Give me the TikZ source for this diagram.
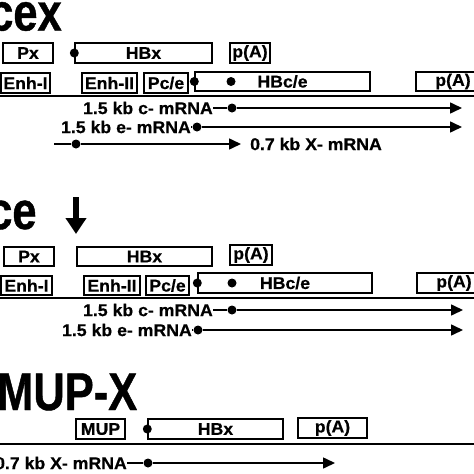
\documentclass[tikz,border=0pt]{standalone}
\usepackage{fontspec}
\setmainfont{Liberation Sans}
\newfontfamily\labfont[FakeStretch=1.04,FakeBold=0.6]{Liberation Sans}
\newfontfamily\titfont[FakeStretch=0.82,FakeBold=0.8]{Liberation Sans}
\usetikzlibrary{arrows.meta}
\tikzset{
  gbox/.style={draw, line width=1.4pt, inner sep=0pt, font=\labfont\bfseries\fontsize{17}{18}\selectfont},
  gdot/.style={circle, fill=black, inner sep=0pt, minimum size=9pt},
  lab/.style={inner sep=0pt, font=\labfont\bfseries\fontsize{17}{18}\selectfont},
  title/.style={inner sep=0pt, anchor=base west, font=\titfont\bfseries\fontsize{53}{53}\selectfont},
  gene/.style={line width=2pt},
  lead/.style={line width=1.6pt},
  mrna/.style={line width=1.6pt, -{Triangle[length=12pt,width=11pt]}},
  bigarrow/.style={line width=6pt, -{Triangle[length=16pt,width=20pt]}}
}
\begin{document}
\begin{tikzpicture}[x=1pt,y=-1pt]
\useasboundingbox[fill=white] (0,0) rectangle (474,474);
% ---------- section 1 ----------
\node[title] (t1) at (-11,30.5) {cex};
\node[gbox, minimum width=50pt, minimum height=20pt] (px1) at (28,53) {Px};
\node[gbox, minimum width=137pt, minimum height=20pt] (hbx1) at (143.5,53) {HBx};
\node[gbox, minimum width=40pt, minimum height=20pt] (pa1) at (250,53) {p(A)};
\node[gdot] (d1) at (hbx1.west) {};
\node[gbox, minimum width=49pt, minimum height=20pt] (enhi1) at (25.5,83) {Enh-I};
\node[gbox, minimum width=55pt, minimum height=20pt] (enhii1) at (109.5,83) {Enh-II};
\node[gbox, minimum width=44pt, minimum height=20pt] (pce1) at (166,83) {Pc/e};
\node[gbox, minimum width=175pt, minimum height=19pt] (hbce1) at (282.5,81.5) {HBc/e};
\node[gbox, minimum width=74pt, minimum height=19pt] (pab1) at (453,81.5) {p(A)};
\node[gdot] (d2) at (hbce1.west) {};
\node[gdot] (d3) at (231,81.5) {};
\coordinate (g1a) at (-2,96);
\coordinate (g1b) at (476,96);
\draw[gene] (g1a) -- (g1b);
\node[lab, anchor=east] (c1lab) at (213,108) {1.5 kb c- mRNA};
\node[gdot] (c1dot) at (232,108) {};
\coordinate (c1end) at (462,108);
\draw[lead] (c1lab.east) -- (c1dot);
\draw[mrna] (c1dot) -- (c1end);
\node[lab, anchor=east] (e1lab) at (191,127) {1.5 kb e- mRNA};
\node[gdot] (e1dot) at (197,127) {};
\coordinate (e1end) at (462,127);
\draw[lead] (e1lab.east) -- (e1dot);
\draw[mrna] (e1dot) -- (e1end);
\coordinate (x1start) at (54,144);
\node[gdot] (x1dot) at (76,144) {};
\node[lab, anchor=west] (x1lab) at (250,144) {0.7 kb X- mRNA};
\draw[lead] (x1start) -- (x1dot);
\draw[mrna] (x1dot) -- ([xshift=-9pt]x1lab.west);
% ---------- section 2 ----------
\node[title] (t2) at (-12,229) {ce};
\coordinate (arA) at (76,197);
\coordinate (arB) at (76,234);
\draw[bigarrow] (arA) -- (arB);
\node[gbox, minimum width=50pt, minimum height=19pt] (px2) at (29,256.5) {Px};
\node[gbox, minimum width=135pt, minimum height=19pt] (hbx2) at (144.5,256.5) {HBx};
\node[gbox, minimum width=42pt, minimum height=20pt] (pa2) at (251,255) {p(A)};
\node[gbox, minimum width=51pt, minimum height=19pt] (enhi2) at (26.5,285.5) {Enh-I};
\node[gbox, minimum width=56pt, minimum height=19pt] (enhii2) at (112,285.5) {Enh-II};
\node[gbox, minimum width=43pt, minimum height=19pt] (pce2) at (167.5,285.5) {Pc/e};
\node[gbox, minimum width=174pt, minimum height=20pt] (hbce2) at (285,283) {HBc/e};
\node[gbox, minimum width=74pt, minimum height=20pt] (pab2) at (454,283) {p(A)};
\node[gdot] (d4) at (hbce2.west) {};
\node[gdot] (d5) at (232,283) {};
\coordinate (g2a) at (-2,298);
\coordinate (g2b) at (476,298);
\draw[gene] (g2a) -- (g2b);
\node[lab, anchor=east] (c2lab) at (213,310) {1.5 kb c- mRNA};
\node[gdot] (c2dot) at (232,310) {};
\coordinate (c2end) at (463,310);
\draw[lead] (c2lab.east) -- (c2dot);
\draw[mrna] (c2dot) -- (c2end);
\node[lab, anchor=east] (e2lab) at (192,330) {1.5 kb e- mRNA};
\node[gdot] (e2dot) at (198,330) {};
\coordinate (e2end) at (463,330);
\draw[lead] (e2lab.east) -- (e2dot);
\draw[mrna] (e2dot) -- (e2end);
% ---------- section 3 ----------
\node[title] (t3) at (-3,410) {MUP-X};
\node[gbox, minimum width=49pt, minimum height=20pt] (mup) at (100.5,429) {MUP};
\node[gbox, minimum width=135pt, minimum height=20pt] (hbx3) at (215.5,429) {HBx};
\node[gbox, minimum width=69pt, minimum height=20pt] (pa3) at (332.5,428) {p(A)};
\node[gdot] (d6) at (hbx3.west) {};
\coordinate (g3a) at (-2,444);
\coordinate (g3b) at (476,444);
\draw[gene] (g3a) -- (g3b);
\node[lab, anchor=east] (x3lab) at (127,463) {0.7 kb X- mRNA};
\node[gdot] (x3dot) at (148,463) {};
\coordinate (x3end) at (335,463);
\draw[lead] (x3lab.east) -- (x3dot);
\draw[mrna] (x3dot) -- (x3end);
\end{tikzpicture}
\end{document}
